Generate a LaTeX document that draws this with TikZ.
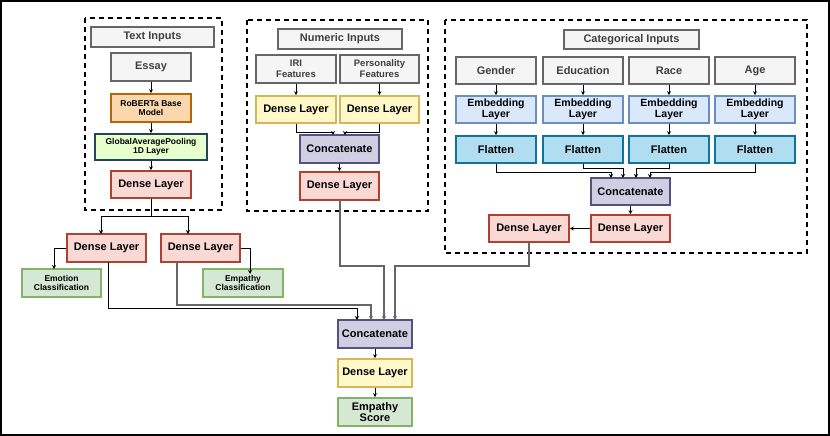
\documentclass[tikz,border=0pt]{standalone}
\usepackage{fontspec}
\setmainfont{Liberation Sans}
\usetikzlibrary{arrows.meta}
\definecolor{gF}{HTML}{F5F5F5}\definecolor{gD}{HTML}{666666}
\definecolor{oF}{HTML}{FAD7AC}\definecolor{oD}{HTML}{B46504}
\definecolor{lF}{HTML}{E6FFCC}\definecolor{lD}{HTML}{23445D}
\definecolor{rF}{HTML}{FAD9D5}\definecolor{rD}{HTML}{AE4132}
\definecolor{yF}{HTML}{FFF9C9}\definecolor{yD}{HTML}{D6B656}
\definecolor{pF}{HTML}{D0CEE2}\definecolor{pD}{HTML}{56517E}
\definecolor{bF}{HTML}{DAE8FC}\definecolor{bD}{HTML}{6C8EBF}
\definecolor{cF}{HTML}{B1DDF0}\definecolor{cD}{HTML}{10739E}
\definecolor{nF}{HTML}{D5E8D4}\definecolor{nD}{HTML}{82B366}
\begin{document}
\begin{tikzpicture}[x=1pt,y=-1pt,
 box/.style={draw, line width=1.6pt, inner sep=0pt, align=center, font=\fontsize{11}{11.5}\selectfont\bfseries},
 W/.style={minimum width=#1pt},H/.style={minimum height=#1pt},
 gbox/.style={box,fill=gF,draw=gD,text=black!75},
 tbox/.style={gbox,line width=2pt,font=\fontsize{11}{12}\selectfont\bfseries,text=black!75},
 rbox/.style={box,fill=rF,draw=rD},
 ybox/.style={box,fill=yF,draw=yD},
 pbox/.style={box,fill=pF,draw=pD},
 ebox/.style={box,fill=bF,draw=bD},
 fbox/.style={box,fill=cF,draw=cD},
 obox/.style={box,fill=nF,draw=nD},
 small/.style={font=\fontsize{8.5}{9.5}\selectfont\bfseries},
 grp/.style={draw, line width=1.6pt, dash pattern=on 5pt off 4pt},
 arr/.style={-{Stealth[length=4pt,width=4pt]}, line width=0.8pt},
 garr/.style={arr, draw=black!60, line width=1.4pt}]
\useasboundingbox (0,0) rectangle (830,436);
\draw[line width=2pt] (1,1) rectangle (829,435);
% groups
\draw[grp] (85,18) rectangle (222,210);
\draw[grp] (247,20) rectangle (428,211);
\draw[grp] (445,20) rectangle (807,253);
% text inputs
\node[tbox,W=123,H=20] (tt) at (152.5,37) {Text Inputs};
\node[gbox,W=80,H=28] (essay) at (151,67) {Essay};
\node[box,fill=oF,draw=oD,small,W=80,H=28] (rob) at (151,108) {RoBERTa Base\\Model};
\node[box,fill=lF,draw=lD,small,W=112,H=26] (gap) at (151,147) {GlobalAveragePooling\\1D Layer};
\node[rbox,W=80,H=27] (td) at (151,184.5) {Dense Layer};
% numeric
\node[tbox,W=124,H=20] (nt) at (340,39) {Numeric Inputs};
\node[gbox,W=80,H=28,font=\fontsize{9.5}{11}\selectfont\bfseries] (iri) at (296,69) {IRI\\Features};
\node[gbox,W=79,H=28,font=\fontsize{9.5}{11}\selectfont\bfseries] (pers) at (379.5,69) {Personality\\Features};
\node[ybox,W=80,H=27] (nd1) at (296,109.5) {Dense Layer};
\node[ybox,W=79,H=27] (nd2) at (379.5,109.5) {Dense Layer};
\node[pbox,W=79,H=28] (nc) at (339.5,149) {Concatenate};
\node[rbox,W=79,H=28] (nd) at (339.5,186) {Dense Layer};
% categorical
\node[tbox,W=135,H=19] (ct) at (631.5,39.5) {Categorical Inputs};
\foreach \n/\t/\x in {g/Gender/496,e/Education/583,r/Race/669,a/Age/755}{
 \node[gbox,W=80,H=27] (i\n) at (\x,70.5) {\t};
 \node[ebox,W=80,H=27,font=\fontsize{10.5}{10.5}\selectfont\bfseries] (m\n) at (\x,109.5) {Embedding\\Layer};
 \node[fbox,W=80,H=27] (f\n) at (\x,149.5) {Flatten};
 \draw[arr] (i\n) -- (m\n);
 \draw[arr] (m\n) -- (f\n);
}
\node[pbox,W=79,H=27] (cc) at (630.5,191.5) {Concatenate};
\node[rbox,W=79,H=27] (cd1) at (630.5,228.5) {Dense Layer};
\node[rbox,W=80,H=27] (cd2) at (529,228.5) {Dense Layer};
% lower
\node[rbox,W=79,H=28] (ld1) at (106.5,248) {Dense Layer};
\node[rbox,W=79,H=28] (ld2) at (200.5,248) {Dense Layer};
\node[obox,small,W=79,H=28] (emo) at (61.5,283) {Emotion\\Classification};
\node[obox,small,W=80,H=28] (empc) at (243,283) {Empathy\\Classification};
\node[pbox,W=74,H=28] (fc) at (375,334) {Concatenate};
\node[ybox,W=74,H=28] (fd) at (375,373) {Dense Layer};
\node[obox,W=74,H=28] (es) at (375,412) {Empathy\\Score};
% text arrows
\draw[arr] (essay) -- (rob);
\draw[arr] (rob) -- (gap);
\draw[arr] (gap) -- (td);
\draw[arr] (td.south) -- (151,216) -| (101,234);
\draw[arr] (td.south) -- (151,216) -| (188,234);
\draw[arr] (ld1.west) -| (54,269);
\draw[arr] (ld2.east) -| (250,274);
% numeric arrows
\draw[arr] (iri) -- (nd1);
\draw[arr] (pers) -- (nd2);
\draw[arr] (nd1.south) -- (296,132) -| (333,135);
\draw[arr] (nd2.south) -- (379.5,132) -| (345,135);
\draw[arr] (nc) -- (nd);
% categorical arrows
\draw[arr] (fg.south) -- (496,172) -| (611,178);
\draw[arr] (fe.south) -- (583,168) -- (623,168) -- (623,178);
\draw[arr] (fr.south) -- (669,168) -- (636,168) -- (636,178);
\draw[arr] (fa.south) -- (755,172) -| (650,178);
\draw[arr] (cc) -- (cd1);
\draw[arr] (cd1) -- (cd2);
% to final concatenate
\draw[arr] (108,262) -- (108,308) -| (357,320);
\draw[garr] (177,262) -- (177,305) -| (371,320);
\draw[garr] (340,200) -- (340,266) -| (384,320);
\draw[garr] (529,242) -- (529,266) -| (395,320);
\draw[arr] (fc) -- (fd);
\draw[arr] (fd) -- (es);
\end{tikzpicture}
\end{document}
